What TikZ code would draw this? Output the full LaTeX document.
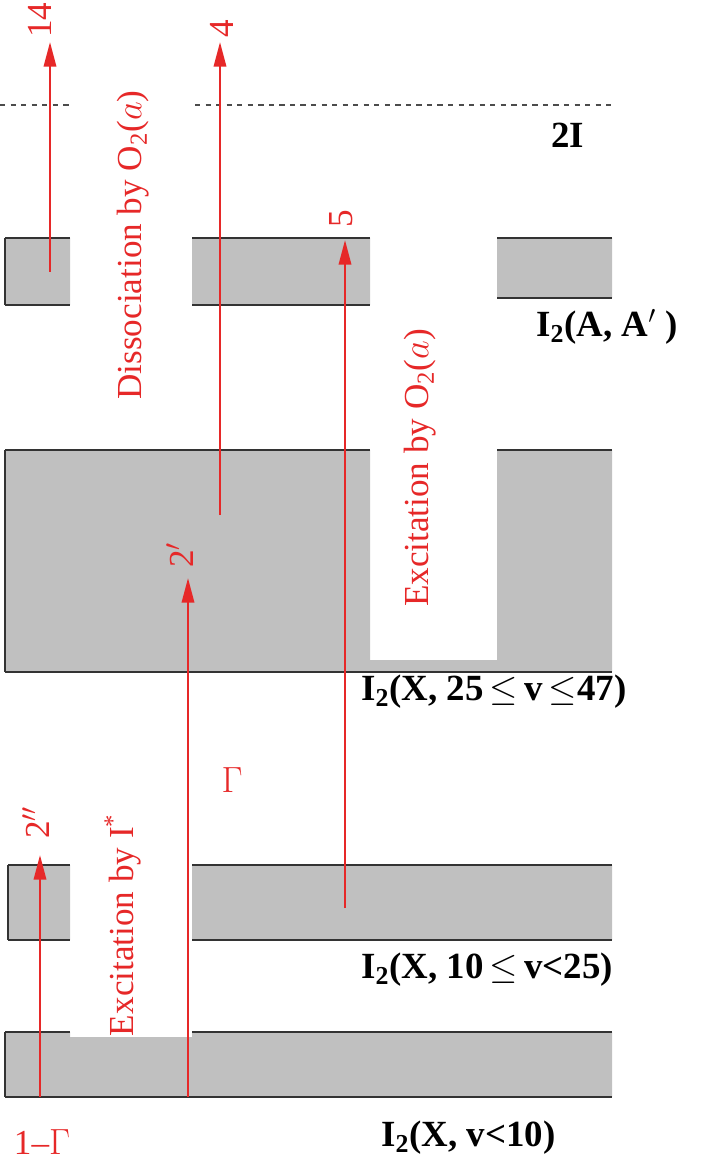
\documentclass[tikz,border=0pt]{standalone}
\usepackage{fontspec}
\setmainfont{Liberation Serif}
\usepackage{xcolor}
\usetikzlibrary{positioning, arrows.meta}
\definecolor{lev}{RGB}{192,192,192}
\definecolor{ex}{RGB}{230,40,40}
\begin{document}
\begin{tikzpicture}[x=0.02cm,y=-0.02cm,>={Triangle[length=14pt,width=7pt]}]
\tikzset{band/.style={fill=lev,draw=none},
  edge/.style={draw=black!80,line width=1.2pt},
  up/.style={->,draw=ex,line width=1.4pt},
  lvl/.style={font=\fontsize{21}{24}\selectfont\bfseries,anchor=west},
  red/.style={text=ex,font=\fontsize{20}{24}\selectfont},
  vred/.style={red,rotate=90}}
\useasboundingbox (0,0) rectangle (700,1172);
% dissociation limit
\draw[dashed,line width=1.2pt,draw=black!70] (0,105) -- (70,105) (195,105) -- (612,105);
\node[lvl] (lim) at (545,135) {2I};
% I2(A,A')
\fill[band] (5,238) rectangle (70,305) (192,238) rectangle (370,305) (497,238) rectangle (612,298);
\draw[edge] (5,238) -- (70,238) (192,238) -- (370,238) (497,238) -- (612,238)
  (5,305) -- (70,305) (192,305) -- (370,305) (497,298) -- (612,298) (5,238) -- (5,305);
\node[lvl] (a) at (530,327) {I\textsubscript{2}(A, A$'$ )};
% I2(X,25-47)
\fill[band] (5,450) -- (370,450) -- (370,660) -- (497,660) -- (497,450) -- (612,450) -- (612,672) -- (5,672) -- cycle;
\draw[edge] (5,450) -- (370,450) (497,450) -- (612,450) (5,672) -- (612,672) (5,450) -- (5,672);
\node[lvl] (x3) at (355,692) {I\textsubscript{2}(X, 25\,$\le$\,v\,$\le$47)};
% I2(X,10-25)
\fill[band] (8,865) rectangle (70,940) (192,865) rectangle (612,940);
\draw[edge] (8,865) -- (70,865) (192,865) -- (612,865) (8,940) -- (70,940) (192,940) -- (612,940) (8,865) -- (8,940);
\node[lvl] (x2) at (355,970) {I\textsubscript{2}(X, 10\,$\le$\,v<25)};
% I2(X,v<10)
\fill[band] (5,1032) -- (70,1032) -- (70,1037) -- (192,1037) -- (192,1032) -- (612,1032) -- (612,1097) -- (5,1097) -- cycle;
\draw[edge] (5,1032) -- (70,1032) (192,1032) -- (612,1032) (5,1097) -- (612,1097) (5,1032) -- (5,1097);
\node[lvl] (x1) at (375,1138) {I\textsubscript{2}(X, v<10)};
% transitions
\coordinate (s14) at (50,272); \coordinate (e14) at (50,42);
\coordinate (s4) at (220,515); \coordinate (e4) at (220,42);
\coordinate (s5) at (345,908); \coordinate (e5) at (345,240);
\coordinate (s2) at (188,1097); \coordinate (e2) at (188,578);
\coordinate (s2b) at (40,1097); \coordinate (e2b) at (40,855);
\draw[up] (s14) -- (e14);
\draw[up] (s4) -- (e4);
\draw[up] (s5) -- (e5);
\draw[up] (s2) -- (e2);
\draw[up] (s2b) -- (e2b);
\node[vred,anchor=west] (n14) at (40,44) {14};
\node[vred,anchor=west] (n4) at (222,44) {4};
\node[vred,anchor=west] (n5) at (341,234) {5};
\node[vred,anchor=west] (n2) at (180,574) {2$'$};
\node[vred,anchor=west] (n2b) at (36,845) {2$''$};
\node[vred] (diss) at (133,245) {Dissociation by O\textsubscript{2}($a$)};
\node[vred] (exo) at (420,468) {Excitation by O\textsubscript{2}($a$)};
\node[vred] (exi) at (123,925) {Excitation by I\textsuperscript{*}};
\node[red] (gam) at (232,780) {$\Gamma$};
\node[red] (omg) at (42,1142) {1\textendash$\Gamma$};
\end{tikzpicture}
\end{document}
